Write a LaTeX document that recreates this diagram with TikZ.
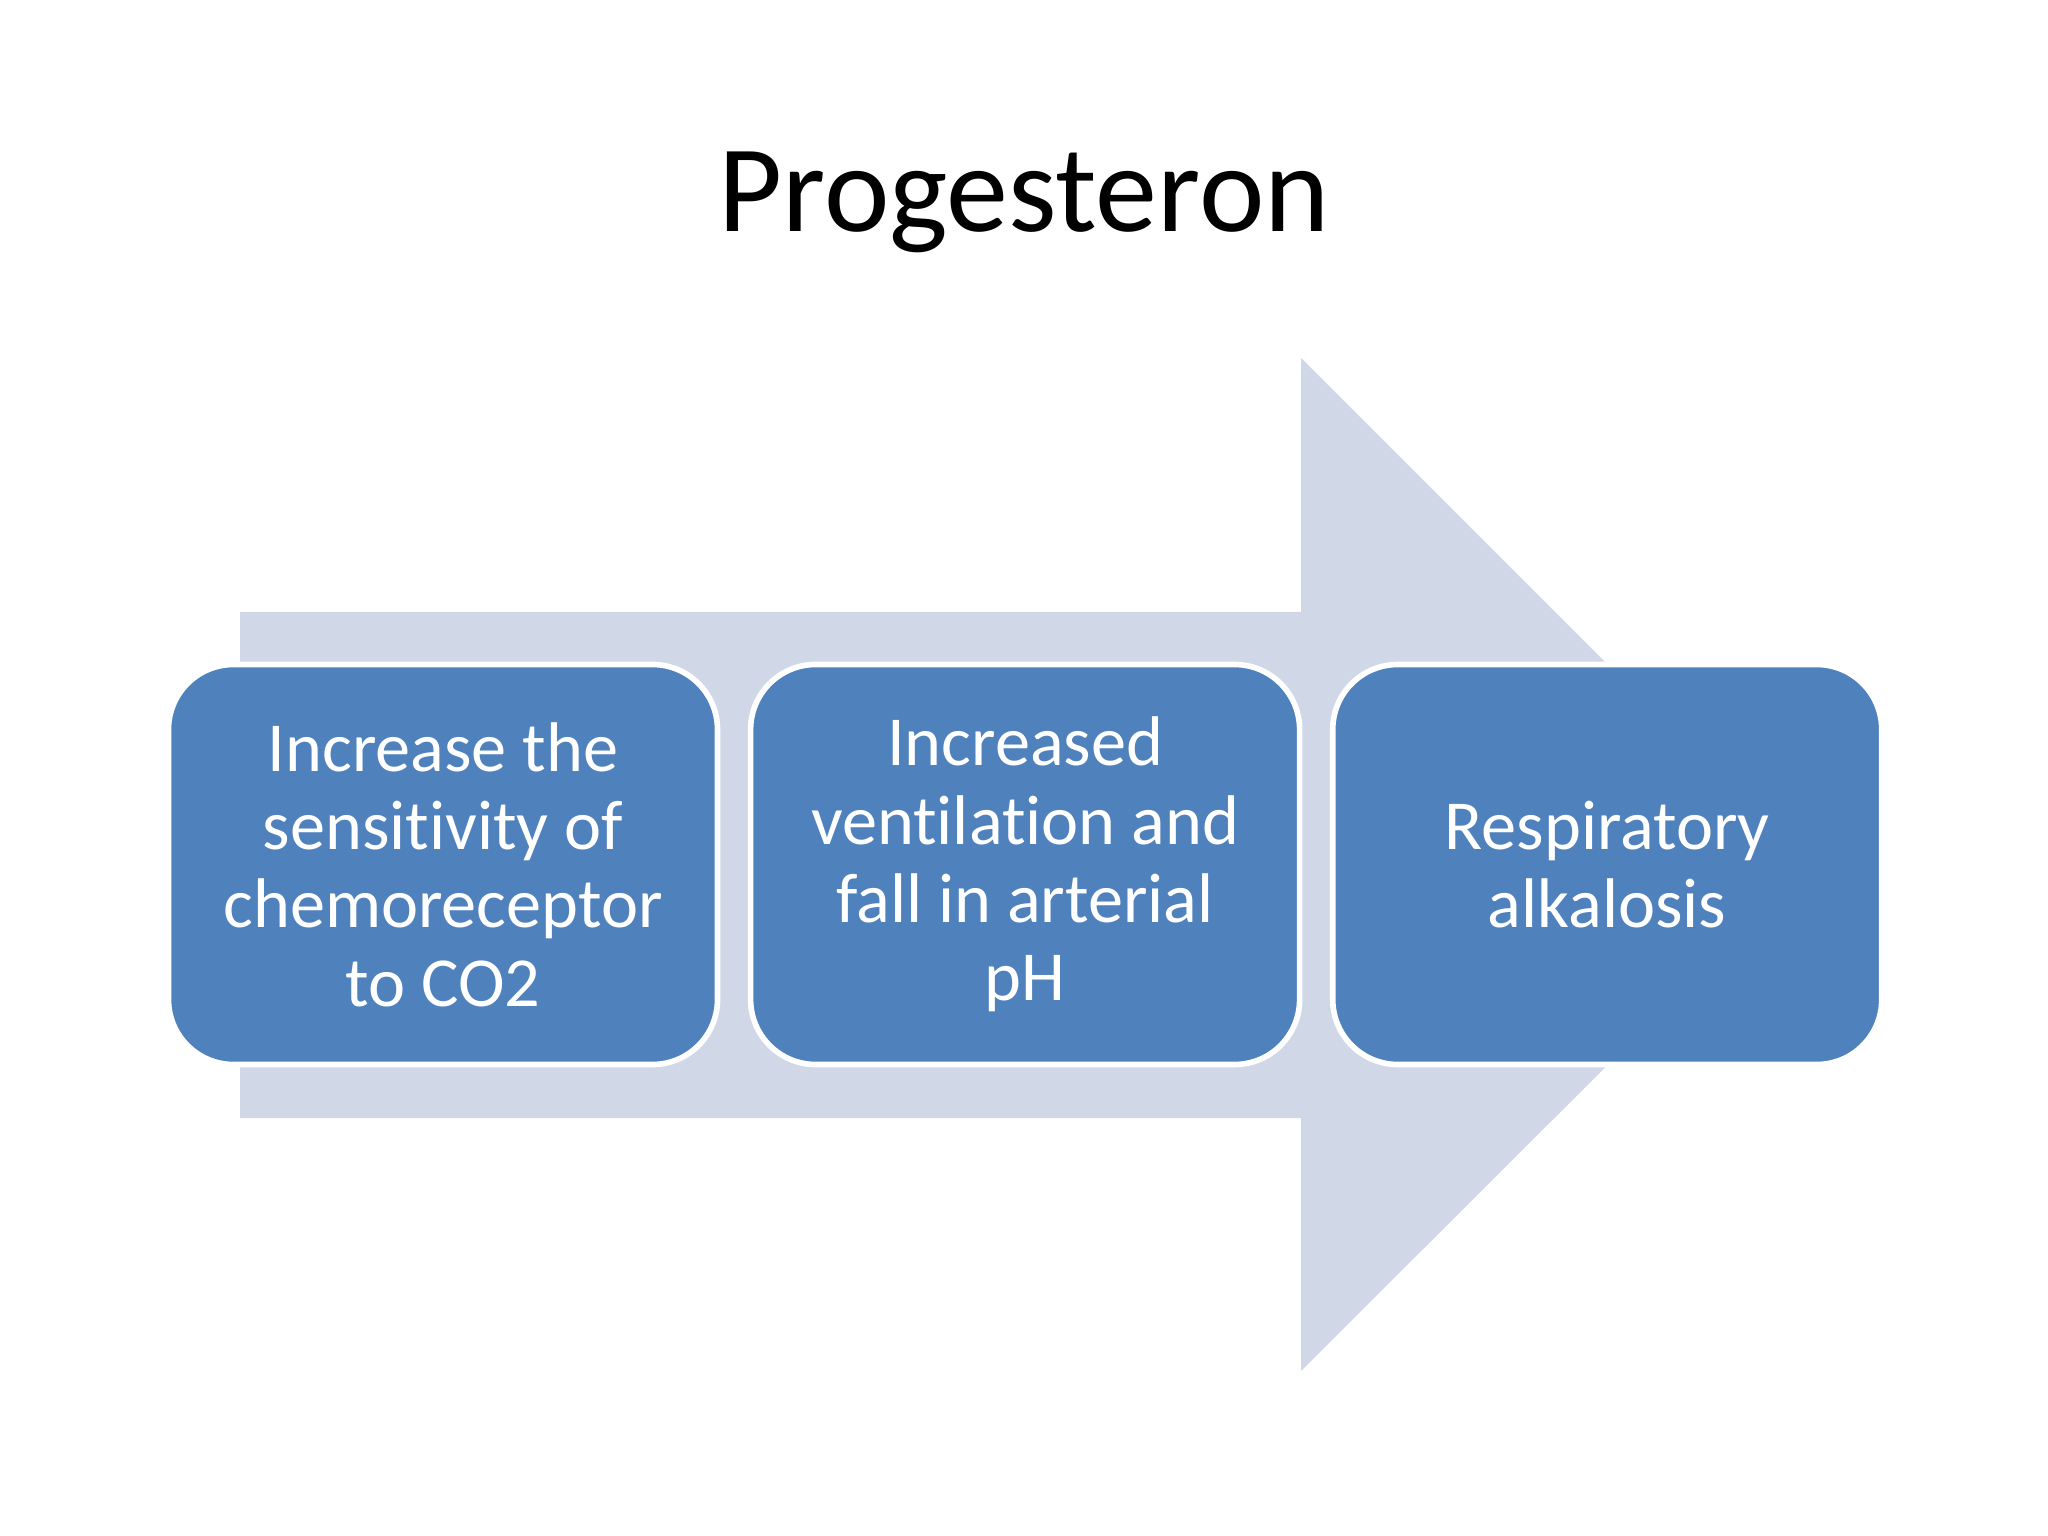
\documentclass[tikz,border=0pt]{standalone}
\usepackage{fontspec}
\setmainfont{Carlito}[Ligatures=NoCommon]
\usetikzlibrary{positioning}
\definecolor{stepblue}{HTML}{4F81BD}
\definecolor{arrowgrey}{HTML}{D0D8E8}
\tikzset{
  stepbox/.style={draw=white, line width=1.6pt, fill=stepblue, rounded corners=0.65cm,
    minimum width=5.49cm, minimum height=4cm, align=center, text=white,
    font=\fontsize{20}{22.3}\selectfont, inner sep=0pt}
}
\begin{document}
\begin{tikzpicture}
\useasboundingbox (0,0) rectangle (20.48,-15.36);
% Title
\node (title) at (10.24,-2.02) {\fontsize{35.3}{40}\selectfont Progesteron};
% Big background arrow
\fill[arrowgrey] (2.40,-6.12) -- (13.01,-6.12) -- (13.01,-3.58) -- (18.08,-8.65)
  -- (13.01,-13.71) -- (13.01,-11.18) -- (2.40,-11.18) -- cycle;
% Steps
\node[stepbox] (sens) at (4.43,-8.645) {Increase the\\sensitivity of\\chemoreceptor\\to CO2};
\node[stepbox, right=0.275cm of sens] (vent) {Increased\\ventilation and\\fall in arterial\\pH};
\node[stepbox, right=0.275cm of vent] (alk) {Respiratory\\alkalosis};
\end{tikzpicture}
\end{document}
